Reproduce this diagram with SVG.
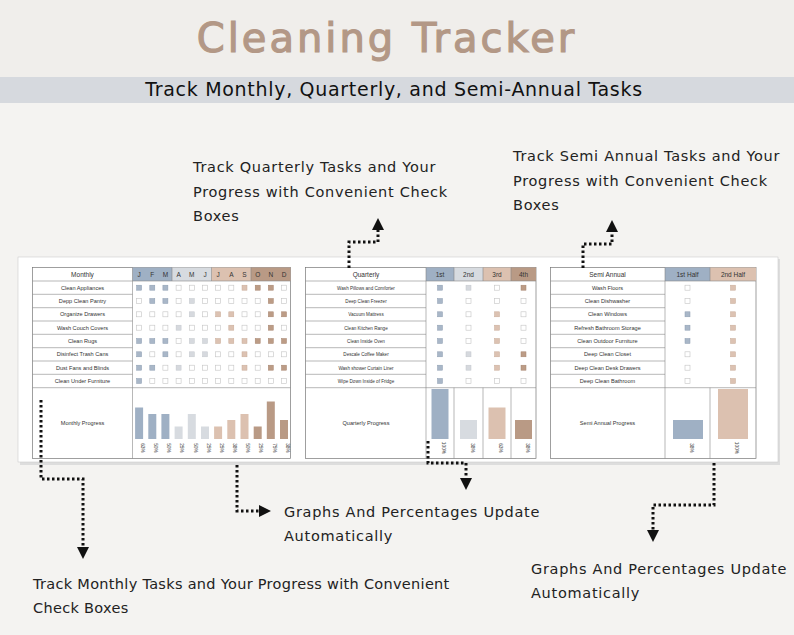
<svg xmlns="http://www.w3.org/2000/svg" width="794" height="635" viewBox="0 0 794 635">
<style>
.t{font-family:"Liberation Sans",Arial,sans-serif;fill:#333;text-anchor:middle}
.lb{font-size:5.6px}.lq{font-size:4.6px}.hd{font-size:6.5px}
.pc{font-family:"Liberation Sans",Arial,sans-serif;font-size:4.8px;fill:#444;text-anchor:middle}
.an{font-family:"DejaVu Sans",sans-serif;font-size:14.5px;fill:#222;letter-spacing:0.7px}
.cell{fill:#fff;stroke:#777;stroke-width:0.7}
.ln{stroke:#888;stroke-width:0.6}
.u{fill:#fff;stroke:#c4c4c4;stroke-width:0.6}
.c1{fill:#a9b7c8;stroke:#8d9db1;stroke-width:0.5}
.c2{fill:#d6d9de;stroke:#c3c7cc;stroke-width:0.5}
.c3{fill:#dcc2b2;stroke:#c8ab98;stroke-width:0.5}
.c4{fill:#bc9c86;stroke:#a5846e;stroke-width:0.5}
.dot{fill:none;stroke:#111;stroke-width:3;stroke-dasharray:2.5 2.5}
</style>
<defs>
<marker id="ah" viewBox="0 0 10 10" refX="5" refY="5" markerWidth="4" markerHeight="4" orient="auto"><path d="M0,0L10,5L0,10z" fill="#111"/></marker>
</defs>
<rect width="794" height="635" fill="#f4f3f1"/>
<rect width="794" height="77" fill="#f0eeeb"/>
<rect y="77" width="794" height="26" fill="#d6d9de"/>
<text x="387" y="52" font-family="DejaVu Sans,sans-serif" font-size="40" fill="#b39886" stroke="#b39886" stroke-width="1.2" text-anchor="middle" letter-spacing="3">Cleaning Tracker</text>
<text x="394" y="96" font-family="DejaVu Sans,sans-serif" font-size="19" fill="#111" text-anchor="middle" letter-spacing="0.7">Track Monthly, Quarterly, and Semi-Annual Tasks</text>

<rect x="20" y="259" width="760" height="206" fill="#ddd"/>
<rect x="18" y="257" width="760" height="205" fill="#fff" stroke="#ccc" stroke-width="0.6"/>

<g id="monthly">
<rect x="32.5" y="267.5" width="258" height="191" class="cell"/>
<rect x="132.5" y="267.5" width="39.5" height="13.5" fill="#9fb0c4"/>
<rect x="172" y="267.5" width="39.5" height="13.5" fill="#d7dbe0"/>
<rect x="211.5" y="267.5" width="39.5" height="13.5" fill="#dcc1b0"/>
<rect x="251" y="267.5" width="39.5" height="13.5" fill="#b99a85"/>
<g class="ln"><line x1="32.5" y1="281" x2="290.5" y2="281"/><line x1="32.5" y1="294.3" x2="132.5" y2="294.3"/><line x1="32.5" y1="307.7" x2="132.5" y2="307.7"/><line x1="32.5" y1="321" x2="132.5" y2="321"/><line x1="32.5" y1="334.3" x2="132.5" y2="334.3"/><line x1="32.5" y1="347.7" x2="132.5" y2="347.7"/><line x1="32.5" y1="361" x2="132.5" y2="361"/><line x1="32.5" y1="374.3" x2="132.5" y2="374.3"/><line x1="32.5" y1="387.7" x2="290.5" y2="387.7"/><line x1="132.5" y1="267.5" x2="132.5" y2="458.5"/><line x1="172" y1="267.5" x2="172" y2="281"/><line x1="211.5" y1="267.5" x2="211.5" y2="281"/><line x1="251" y1="267.5" x2="251" y2="281"/></g>
<g class="t hd"><text x="82.5" y="276.5">Monthly</text><text x="139.1" y="276.5">J</text><text x="152.3" y="276.5">F</text><text x="165.4" y="276.5">M</text><text x="178.6" y="276.5">A</text><text x="191.8" y="276.5">M</text><text x="205" y="276.5">J</text><text x="218.1" y="276.5">J</text><text x="231.3" y="276.5">A</text><text x="244.5" y="276.5">S</text><text x="257.7" y="276.5">O</text><text x="270.8" y="276.5">N</text><text x="284" y="276.5">D</text></g>
<g class="t lb"><text x="82.5" y="289.7">Clean Appliances</text><text x="82.5" y="303">Depp Clean Pantry</text><text x="82.5" y="316.3">Organize Drawers</text><text x="82.5" y="329.7">Wash Couch Covers</text><text x="82.5" y="343">Clean Rugs</text><text x="82.5" y="356.3">Disinfect Trash Cans</text><text x="82.5" y="369.7">Dust Fans and Blinds</text><text x="82.5" y="383">Clean Under Furniture</text><text x="82.5" y="425">Monthly Progress</text></g>
<g>
<rect x="136.6" y="285.2" width="5" height="5" class="c1"/><rect x="149.8" y="285.2" width="5" height="5" class="c1"/><rect x="162.9" y="285.2" width="5" height="5" class="c1"/><rect x="176.1" y="285.2" width="5" height="5" class="u"/><rect x="189.3" y="285.2" width="5" height="5" class="u"/><rect x="202.5" y="285.2" width="5" height="5" class="u"/><rect x="215.6" y="285.2" width="5" height="5" class="u"/><rect x="228.8" y="285.2" width="5" height="5" class="u"/><rect x="242" y="285.2" width="5" height="5" class="c3"/><rect x="255.2" y="285.2" width="5" height="5" class="c4"/><rect x="268.3" y="285.2" width="5" height="5" class="c4"/><rect x="281.5" y="285.2" width="5" height="5" class="u"/>
<rect x="136.6" y="298.5" width="5" height="5" class="u"/><rect x="149.8" y="298.5" width="5" height="5" class="c1"/><rect x="162.9" y="298.5" width="5" height="5" class="c1"/><rect x="176.1" y="298.5" width="5" height="5" class="u"/><rect x="189.3" y="298.5" width="5" height="5" class="c2"/><rect x="202.5" y="298.5" width="5" height="5" class="u"/><rect x="215.6" y="298.5" width="5" height="5" class="u"/><rect x="228.8" y="298.5" width="5" height="5" class="u"/><rect x="242" y="298.5" width="5" height="5" class="u"/><rect x="255.2" y="298.5" width="5" height="5" class="u"/><rect x="268.3" y="298.5" width="5" height="5" class="c4"/><rect x="281.5" y="298.5" width="5" height="5" class="u"/>
<rect x="136.6" y="311.8" width="5" height="5" class="u"/><rect x="149.8" y="311.8" width="5" height="5" class="u"/><rect x="162.9" y="311.8" width="5" height="5" class="u"/><rect x="176.1" y="311.8" width="5" height="5" class="u"/><rect x="189.3" y="311.8" width="5" height="5" class="c2"/><rect x="202.5" y="311.8" width="5" height="5" class="u"/><rect x="215.6" y="311.8" width="5" height="5" class="c3"/><rect x="228.8" y="311.8" width="5" height="5" class="c3"/><rect x="242" y="311.8" width="5" height="5" class="u"/><rect x="255.2" y="311.8" width="5" height="5" class="u"/><rect x="268.3" y="311.8" width="5" height="5" class="c4"/><rect x="281.5" y="311.8" width="5" height="5" class="c4"/>
<rect x="136.6" y="325.2" width="5" height="5" class="u"/><rect x="149.8" y="325.2" width="5" height="5" class="u"/><rect x="162.9" y="325.2" width="5" height="5" class="u"/><rect x="176.1" y="325.2" width="5" height="5" class="c2"/><rect x="189.3" y="325.2" width="5" height="5" class="u"/><rect x="202.5" y="325.2" width="5" height="5" class="u"/><rect x="215.6" y="325.2" width="5" height="5" class="u"/><rect x="228.8" y="325.2" width="5" height="5" class="c3"/><rect x="242" y="325.2" width="5" height="5" class="u"/><rect x="255.2" y="325.2" width="5" height="5" class="u"/><rect x="268.3" y="325.2" width="5" height="5" class="c4"/><rect x="281.5" y="325.2" width="5" height="5" class="u"/>
<rect x="136.6" y="338.5" width="5" height="5" class="c1"/><rect x="149.8" y="338.5" width="5" height="5" class="c1"/><rect x="162.9" y="338.5" width="5" height="5" class="c1"/><rect x="176.1" y="338.5" width="5" height="5" class="u"/><rect x="189.3" y="338.5" width="5" height="5" class="c2"/><rect x="202.5" y="338.5" width="5" height="5" class="c2"/><rect x="215.6" y="338.5" width="5" height="5" class="c3"/><rect x="228.8" y="338.5" width="5" height="5" class="c3"/><rect x="242" y="338.5" width="5" height="5" class="c3"/><rect x="255.2" y="338.5" width="5" height="5" class="c4"/><rect x="268.3" y="338.5" width="5" height="5" class="c4"/><rect x="281.5" y="338.5" width="5" height="5" class="c4"/>
<rect x="136.6" y="351.8" width="5" height="5" class="c1"/><rect x="149.8" y="351.8" width="5" height="5" class="u"/><rect x="162.9" y="351.8" width="5" height="5" class="c1"/><rect x="176.1" y="351.8" width="5" height="5" class="u"/><rect x="189.3" y="351.8" width="5" height="5" class="c2"/><rect x="202.5" y="351.8" width="5" height="5" class="c2"/><rect x="215.6" y="351.8" width="5" height="5" class="u"/><rect x="228.8" y="351.8" width="5" height="5" class="u"/><rect x="242" y="351.8" width="5" height="5" class="c3"/><rect x="255.2" y="351.8" width="5" height="5" class="u"/><rect x="268.3" y="351.8" width="5" height="5" class="u"/><rect x="281.5" y="351.8" width="5" height="5" class="u"/>
<rect x="136.6" y="365.2" width="5" height="5" class="c1"/><rect x="149.8" y="365.2" width="5" height="5" class="c1"/><rect x="162.9" y="365.2" width="5" height="5" class="u"/><rect x="176.1" y="365.2" width="5" height="5" class="c2"/><rect x="189.3" y="365.2" width="5" height="5" class="u"/><rect x="202.5" y="365.2" width="5" height="5" class="u"/><rect x="215.6" y="365.2" width="5" height="5" class="u"/><rect x="228.8" y="365.2" width="5" height="5" class="u"/><rect x="242" y="365.2" width="5" height="5" class="c3"/><rect x="255.2" y="365.2" width="5" height="5" class="u"/><rect x="268.3" y="365.2" width="5" height="5" class="c4"/><rect x="281.5" y="365.2" width="5" height="5" class="c4"/>
<rect x="136.6" y="378.5" width="5" height="5" class="c1"/><rect x="149.8" y="378.5" width="5" height="5" class="u"/><rect x="162.9" y="378.5" width="5" height="5" class="u"/><rect x="176.1" y="378.5" width="5" height="5" class="u"/><rect x="189.3" y="378.5" width="5" height="5" class="u"/><rect x="202.5" y="378.5" width="5" height="5" class="u"/><rect x="215.6" y="378.5" width="5" height="5" class="u"/><rect x="228.8" y="378.5" width="5" height="5" class="u"/><rect x="242" y="378.5" width="5" height="5" class="u"/><rect x="255.2" y="378.5" width="5" height="5" class="u"/><rect x="268.3" y="378.5" width="5" height="5" class="u"/><rect x="281.5" y="378.5" width="5" height="5" class="u"/>
</g>
<g>
<rect x="135.1" y="407.5" width="8" height="31.5" fill="#9fb0c4"/><rect x="148.3" y="414" width="8" height="25" fill="#9fb0c4"/><rect x="161.4" y="414" width="8" height="25" fill="#9fb0c4"/><rect x="174.6" y="426.5" width="8" height="12.5" fill="#d7dbe0"/><rect x="187.8" y="414" width="8" height="25" fill="#d7dbe0"/><rect x="201" y="426.5" width="8" height="12.5" fill="#d7dbe0"/><rect x="214.1" y="426.5" width="8" height="12.5" fill="#dcc1b0"/><rect x="227.3" y="420" width="8" height="19" fill="#dcc1b0"/><rect x="240.5" y="414" width="8" height="25" fill="#dcc1b0"/><rect x="253.7" y="426.5" width="8" height="12.5" fill="#b99a85"/><rect x="266.8" y="401.5" width="8" height="37.5" fill="#b99a85"/><rect x="280" y="420" width="8" height="19" fill="#b99a85"/>
</g>
<g class="pc">
<text transform="translate(140.8,448) rotate(90)">63%</text><text transform="translate(154,448) rotate(90)">50%</text><text transform="translate(167.1,448) rotate(90)">50%</text><text transform="translate(180.3,448) rotate(90)">25%</text><text transform="translate(193.5,448) rotate(90)">50%</text><text transform="translate(206.7,448) rotate(90)">25%</text><text transform="translate(219.8,448) rotate(90)">25%</text><text transform="translate(233,448) rotate(90)">38%</text><text transform="translate(246.2,448) rotate(90)">50%</text><text transform="translate(259.4,448) rotate(90)">25%</text><text transform="translate(272.5,448) rotate(90)">75%</text><text transform="translate(285.7,448) rotate(90)">38%</text>
</g>
</g>

<g id="quarterly">
<rect x="305.5" y="267.5" width="230.5" height="191" class="cell"/>
<rect x="426" y="267.5" width="28" height="13.5" fill="#9fb0c4"/>
<rect x="454" y="267.5" width="29" height="13.5" fill="#d7dbe0"/>
<rect x="483" y="267.5" width="28" height="13.5" fill="#dcc1b0"/>
<rect x="511" y="267.5" width="25" height="13.5" fill="#b99a85"/>
<g class="ln"><line x1="305.5" y1="281" x2="536" y2="281"/><line x1="305.5" y1="294.3" x2="426" y2="294.3"/><line x1="305.5" y1="307.7" x2="426" y2="307.7"/><line x1="305.5" y1="321" x2="426" y2="321"/><line x1="305.5" y1="334.3" x2="426" y2="334.3"/><line x1="305.5" y1="347.7" x2="426" y2="347.7"/><line x1="305.5" y1="361" x2="426" y2="361"/><line x1="305.5" y1="374.3" x2="426" y2="374.3"/><line x1="305.5" y1="387.7" x2="536" y2="387.7"/><line x1="426" y1="267.5" x2="426" y2="458.5"/><line x1="454" y1="267.5" x2="454" y2="281"/><line x1="483" y1="267.5" x2="483" y2="281"/><line x1="511" y1="267.5" x2="511" y2="281"/><line x1="454" y1="387.7" x2="454" y2="458.5"/><line x1="483" y1="387.7" x2="483" y2="458.5"/><line x1="511" y1="387.7" x2="511" y2="458.5"/></g>
<g class="t hd"><text x="366" y="276.5">Quarterly</text><text x="440" y="276.5">1st</text><text x="468.5" y="276.5">2nd</text><text x="497" y="276.5">3rd</text><text x="523.5" y="276.5">4th</text></g>
<g class="t lq"><text x="366" y="289.5">Wash Pillows and Comforter</text><text x="366" y="302.8">Deep Clean Freezer</text><text x="366" y="316.1">Vacuum Mattress</text><text x="366" y="329.5">Clean Kitchen Range</text><text x="366" y="342.8">Clean Inside Oven</text><text x="366" y="356.1">Descale Coffee Maker</text><text x="366" y="369.5">Wash shower Curtain Liner</text><text x="366" y="382.8">Wipe Down Inside of Fridge</text></g>
<text x="366" y="425" class="t lb">Quarterly Progress</text>
<g>
<rect x="437.5" y="285.2" width="5" height="5" class="c1"/><rect x="466" y="285.2" width="5" height="5" class="c2"/><rect x="494.5" y="285.2" width="5" height="5" class="u"/><rect x="521" y="285.2" width="5" height="5" class="c4"/>
<rect x="437.5" y="298.5" width="5" height="5" class="c1"/><rect x="466" y="298.5" width="5" height="5" class="u"/><rect x="494.5" y="298.5" width="5" height="5" class="u"/><rect x="521" y="298.5" width="5" height="5" class="u"/>
<rect x="437.5" y="311.8" width="5" height="5" class="c1"/><rect x="466" y="311.8" width="5" height="5" class="u"/><rect x="494.5" y="311.8" width="5" height="5" class="c3"/><rect x="521" y="311.8" width="5" height="5" class="u"/>
<rect x="437.5" y="325.2" width="5" height="5" class="c1"/><rect x="466" y="325.2" width="5" height="5" class="u"/><rect x="494.5" y="325.2" width="5" height="5" class="c3"/><rect x="521" y="325.2" width="5" height="5" class="u"/>
<rect x="437.5" y="338.5" width="5" height="5" class="c1"/><rect x="466" y="338.5" width="5" height="5" class="u"/><rect x="494.5" y="338.5" width="5" height="5" class="c3"/><rect x="521" y="338.5" width="5" height="5" class="u"/>
<rect x="437.5" y="351.8" width="5" height="5" class="c1"/><rect x="466" y="351.8" width="5" height="5" class="c2"/><rect x="494.5" y="351.8" width="5" height="5" class="c3"/><rect x="521" y="351.8" width="5" height="5" class="c4"/>
<rect x="437.5" y="365.2" width="5" height="5" class="c1"/><rect x="466" y="365.2" width="5" height="5" class="c2"/><rect x="494.5" y="365.2" width="5" height="5" class="c3"/><rect x="521" y="365.2" width="5" height="5" class="c4"/>
<rect x="437.5" y="378.5" width="5" height="5" class="c1"/><rect x="466" y="378.5" width="5" height="5" class="u"/><rect x="494.5" y="378.5" width="5" height="5" class="u"/><rect x="521" y="378.5" width="5" height="5" class="u"/>
</g>
<rect x="431.5" y="389" width="17" height="50" fill="#9fb0c4"/>
<rect x="460" y="420" width="17" height="19" fill="#d7dbe0"/>
<rect x="488.5" y="407.5" width="17" height="31.5" fill="#dcc1b0"/>
<rect x="515" y="420" width="17" height="19" fill="#b99a85"/>
<g class="pc"><text transform="translate(442,448) rotate(90)">100%</text><text transform="translate(470.5,448) rotate(90)">38%</text><text transform="translate(499,448) rotate(90)">63%</text><text transform="translate(525.5,448) rotate(90)">38%</text></g>
</g>

<g id="semiannual">
<rect x="550.5" y="267.5" width="205.5" height="191" class="cell"/>
<rect x="665" y="267.5" width="45" height="13.5" fill="#9fb0c4"/>
<rect x="710" y="267.5" width="46" height="13.5" fill="#dcc1b0"/>
<g class="ln"><line x1="550.5" y1="281" x2="756" y2="281"/><line x1="550.5" y1="294.3" x2="665" y2="294.3"/><line x1="550.5" y1="307.7" x2="665" y2="307.7"/><line x1="550.5" y1="321" x2="665" y2="321"/><line x1="550.5" y1="334.3" x2="665" y2="334.3"/><line x1="550.5" y1="347.7" x2="665" y2="347.7"/><line x1="550.5" y1="361" x2="665" y2="361"/><line x1="550.5" y1="374.3" x2="665" y2="374.3"/><line x1="550.5" y1="387.7" x2="756" y2="387.7"/><line x1="665" y1="267.5" x2="665" y2="458.5"/><line x1="710" y1="267.5" x2="710" y2="281"/><line x1="710" y1="387.7" x2="710" y2="458.5"/></g>
<g class="t hd"><text x="607.5" y="276.5">Semi Annual</text><text x="687.5" y="276.5">1st Half</text><text x="733" y="276.5">2nd Half</text></g>
<g class="t lb"><text x="607.5" y="289.7">Wash Floors</text><text x="607.5" y="303">Clean Dishwasher</text><text x="607.5" y="316.3">Clean Windows</text><text x="607.5" y="329.7">Refresh Bathroom Storage</text><text x="607.5" y="343">Clean Outdoor Furniture</text><text x="607.5" y="356.3">Deep Clean Closet</text><text x="607.5" y="369.7">Deep Clean Desk Drawers</text><text x="607.5" y="383">Deep Clean Bathroom</text><text x="607.5" y="425">Semi Annual Progress</text></g>
<g>
<rect x="685" y="285.2" width="5" height="5" class="u"/><rect x="730.5" y="285.2" width="5" height="5" class="c3"/>
<rect x="685" y="298.5" width="5" height="5" class="u"/><rect x="730.5" y="298.5" width="5" height="5" class="c3"/>
<rect x="685" y="311.8" width="5" height="5" class="c1"/><rect x="730.5" y="311.8" width="5" height="5" class="c3"/>
<rect x="685" y="325.2" width="5" height="5" class="c1"/><rect x="730.5" y="325.2" width="5" height="5" class="c3"/>
<rect x="685" y="338.5" width="5" height="5" class="c1"/><rect x="730.5" y="338.5" width="5" height="5" class="c3"/>
<rect x="685" y="351.8" width="5" height="5" class="u"/><rect x="730.5" y="351.8" width="5" height="5" class="c3"/>
<rect x="685" y="365.2" width="5" height="5" class="u"/><rect x="730.5" y="365.2" width="5" height="5" class="c3"/>
<rect x="685" y="378.5" width="5" height="5" class="u"/><rect x="730.5" y="378.5" width="5" height="5" class="c3"/>
</g>
<rect x="673" y="420" width="30" height="19" fill="#9fb0c4"/>
<rect x="718" y="389" width="30" height="50" fill="#dcc1b0"/>
<g class="pc"><text transform="translate(689.5,448) rotate(90)">38%</text><text transform="translate(735,448) rotate(90)">100%</text></g>
</g>

<g id="connectors">
<path class="dot" d="M349,268V242H378V224" marker-end="url(#ah)"/>
<path class="dot" d="M583,268V244H612V226" marker-end="url(#ah)"/>
<path class="dot" d="M41,400V479H83V553" marker-end="url(#ah)"/>
<path class="dot" d="M237,465V511H265" marker-end="url(#ah)"/>
<path class="dot" d="M428,441V463H466V484" marker-end="url(#ah)"/>
<path class="dot" d="M714,463V505H653V536" marker-end="url(#ah)"/>
</g>

<g id="labels" class="an">
<text x="193" y="172">Track Quarterly Tasks and Your</text>
<text x="193" y="197">Progress with Convenient Check</text>
<text x="193" y="221">Boxes</text>
<text x="513" y="161">Track Semi Annual Tasks and Your</text>
<text x="513" y="186">Progress with Convenient Check</text>
<text x="513" y="210">Boxes</text>
<text x="284" y="517">Graphs And Percentages Update</text>
<text x="284" y="541">Automatically</text>
<text x="531" y="574">Graphs And Percentages Update</text>
<text x="531" y="598">Automatically</text>
<text x="33" y="589" letter-spacing="0.3">Track Monthly Tasks and Your Progress with Convenient</text>
<text x="33" y="613" letter-spacing="0.3">Check Boxes</text>
</g>
</svg>
